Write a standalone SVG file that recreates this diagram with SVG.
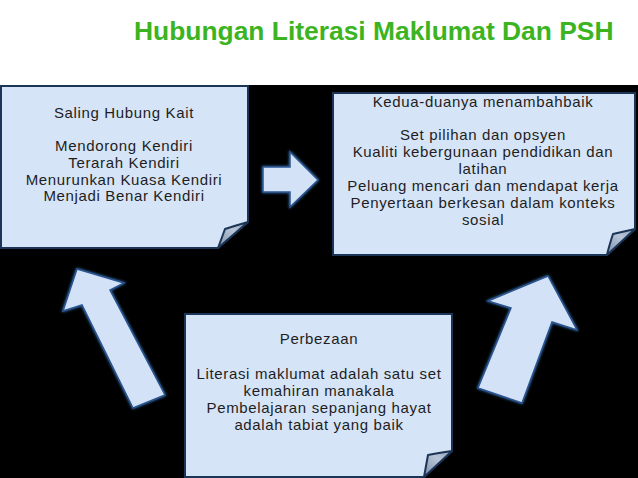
<svg xmlns="http://www.w3.org/2000/svg" width="638" height="478" viewBox="0 0 638 478">
  <defs>
    <style>
      .title { font-family: "Liberation Sans", Arial, sans-serif; font-weight: bold; font-size: 26.4px; fill: #3cb421; }
      .t { font-family: "Liberation Sans", Arial, sans-serif; font-size: 15px; letter-spacing: 0.65px; fill: #1e1e1e; text-anchor: middle; }
      .box { fill: #d6e4f7; stroke: #1b3556; stroke-width: 2; }
      .fold { fill: url(#foldGrad); stroke: #1b3556; stroke-width: 2; stroke-linejoin: round; }
      .arrow { fill: #d3e2f6; stroke: #2a5590; stroke-width: 1.5; stroke-linejoin: miter; filter: url(#glow); }
    </style>
    <linearGradient id="foldGrad" x1="0" y1="1" x2="1" y2="0">
      <stop offset="0" stop-color="#7d8ea8"/>
      <stop offset="0.6" stop-color="#b9c6d8"/>
      <stop offset="1" stop-color="#8e9db5"/>
    </linearGradient>
    <filter id="glow" x="-20%" y="-20%" width="140%" height="140%">
      <feGaussianBlur in="SourceAlpha" stdDeviation="1.5" result="b"/>
      <feFlood flood-color="#3a78c0"/>
      <feComposite in2="b" operator="in" result="g"/>
      <feMerge><feMergeNode in="g"/><feMergeNode in="SourceGraphic"/></feMerge>
    </filter>
  </defs>

  <rect x="0" y="0" width="638" height="478" fill="#ffffff"/>
  <rect x="0" y="85" width="638" height="393" fill="#000000"/>

  <text class="title" x="134" y="40">Hubungan Literasi Maklumat Dan PSH</text>

  <g id="connectors">
    <polygon id="arrow-right" class="arrow" points="263,167 290,167 290,152 318,180 290,207 290,192 263,192"/>
    <polygon id="arrow-left-up" class="arrow" points="77,269 124,283 110,290 165,395 133,408 82,305 63,311"/>
    <polygon id="arrow-right-up" class="arrow" points="548,276 577,330 552,322 522,403 478,388 511,308 488,301"/>
  </g>

  <g id="node-saling">
    <path class="box" d="M1,86 H248 V222 L218,248 H1 Z"/>
    <path class="fold" d="M248,222 Q234,226 225,229 Q221,240 218,248 Z"/>
    <text class="t" x="124" y="118">Saling Hubung Kait</text>
    <text class="t" x="124" y="151">Mendorong Kendiri</text>
    <text class="t" x="124" y="168">Terarah Kendiri</text>
    <text class="t" x="124" y="184.5">Menurunkan Kuasa Kendiri</text>
    <text class="t" x="124" y="201">Menjadi Benar Kendiri</text>
  </g>

  <g id="node-kedua">
    <path class="box" d="M333,93 H635 V229 L607,255 H333 Z"/>
    <path class="fold" d="M635,229 Q622,232 613,234 Q609,246 607,255 Z"/>
    <text class="t" x="483" y="107">Kedua-duanya menambahbaik</text>
    <text class="t" x="483" y="140">Set pilihan dan opsyen</text>
    <text class="t" x="483" y="157">Kualiti kebergunaan pendidikan dan</text>
    <text class="t" x="483" y="174">latihan</text>
    <text class="t" x="483" y="191">Peluang mencari dan mendapat kerja</text>
    <text class="t" x="483" y="208">Penyertaan berkesan dalam konteks</text>
    <text class="t" x="483" y="225">sosial</text>
  </g>

  <g id="node-perbezaan">
    <path class="box" d="M185,314 H452 V451 L424,477 H185 Z"/>
    <path class="fold" d="M452,451 Q438,453 428,455 Q426,466 424,477 Z"/>
    <text class="t" x="319" y="344">Perbezaan</text>
    <text class="t" x="319" y="379">Literasi maklumat adalah satu set</text>
    <text class="t" x="319" y="396">kemahiran manakala</text>
    <text class="t" x="319" y="413">Pembelajaran sepanjang hayat</text>
    <text class="t" x="319" y="430">adalah tabiat yang baik</text>
  </g>
</svg>
